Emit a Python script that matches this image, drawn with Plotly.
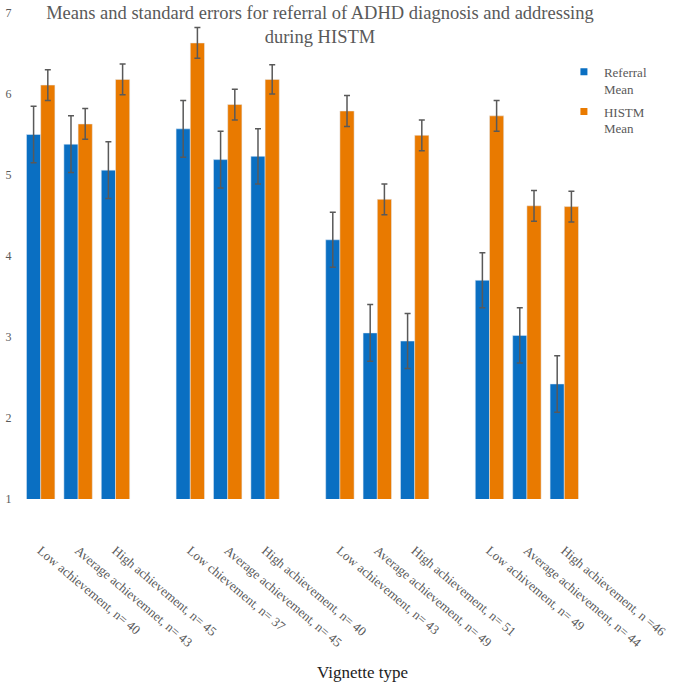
import plotly.graph_objects as go

labels = [
    "Low achievement, n= 40", "Average achievemnet, n= 43", "High achievement, n= 45",
    "Low chievement, n= 37", "Average achievement, n= 45", "High achievement, n= 40",
    "Low achievement, n= 43", "Average achievement, n= 49", "High achievement, n= 51",
    "Low achivement, n= 49", "Average achievement, n= 44", "High achievement, n =46",
]
referral_mean = [5.50, 5.38, 5.06, 5.57, 5.19, 5.23, 4.20, 3.05, 2.95, 3.70, 3.02, 2.42]
referral_se = [0.35, 0.35, 0.35, 0.35, 0.35, 0.34, 0.34, 0.35, 0.34, 0.34, 0.34, 0.35]
histm_mean = [6.11, 5.63, 6.18, 6.63, 5.87, 6.18, 5.79, 4.70, 5.49, 5.73, 4.62, 4.61]
histm_se = [0.19, 0.19, 0.19, 0.19, 0.19, 0.18, 0.19, 0.19, 0.19, 0.19, 0.19, 0.19]

# three vignettes per cluster, one empty slot between clusters
xpos = [i + i // 3 for i in range(len(labels))]

BLUE = "#0A6FC2"
ORANGE = "#E97A00"
GREY = "#595959"
FONT = "Liberation Serif"

fig = go.Figure()
fig.add_trace(go.Bar(
    x=xpos, y=referral_mean, name="Referral<br>Mean", marker_color=BLUE,
    error_y=dict(type="data", array=referral_se, color=GREY, thickness=1.5, width=3),
    showlegend=False,
))
fig.add_trace(go.Bar(
    x=xpos, y=histm_mean, name="HISTM<br>Mean", marker_color=ORANGE,
    error_y=dict(type="data", array=histm_se, color=GREY, thickness=1.5, width=3),
    showlegend=False,
))
# legend entries with small square markers
fig.add_trace(go.Scatter(x=[None], y=[None], mode="markers", name="Referral<br>Mean",
                         marker=dict(symbol="square", size=7, color=BLUE), legendgroup="a"))
fig.add_trace(go.Scatter(x=[None], y=[None], mode="markers", name="HISTM<br>Mean",
                         marker=dict(symbol="square", size=7, color=ORANGE), legendgroup="b"))

fig.update_layout(
    width=675, height=685,
    margin=dict(l=18.5, r=86.5, t=6, b=186),
    paper_bgcolor="white", plot_bgcolor="white",
    barmode="group", bargap=0.24, bargroupgap=0,
    font=dict(family=FONT, color=GREY, size=13),
    title=dict(
        text="Means and standard errors for referral of ADHD diagnosis and addressing<br>during HISTM",
        x=0.474, xref="container", xanchor="center",
        y=1 - 19 / 685, yref="container", yanchor="top",
        font=dict(family=FONT, size=18.5, color=GREY),
    ),
    legend=dict(
        x=0.966, xanchor="left", y=0.91, yanchor="top",
        font=dict(family=FONT, size=13, color=GREY),
        itemwidth=30, valign="top", tracegroupgap=3,
        bgcolor="rgba(0,0,0,0)",
    ),
    xaxis=dict(
        range=[-0.5, 14.5], tickmode="array", tickvals=xpos, ticktext=labels,
        tickangle=40, ticks="outside", ticklen=38, tickcolor="rgba(0,0,0,0)",
        showgrid=False, zeroline=False, showline=False,
        tickfont=dict(family=FONT, size=13, color=GREY),
    ),
    yaxis=dict(
        range=[1, 7], dtick=1, showgrid=False, zeroline=False, showline=False,
        ticks="outside", ticklen=7, tickcolor="rgba(0,0,0,0)",
        ticklabeloverflow="allow",
        tickfont=dict(family=FONT, size=12, color=GREY),
    ),
    annotations=[dict(
        text="Vignette type", xref="paper", yref="paper",
        x=(364 - 18.5) / 570, y=-(675 - 499) / 493, xanchor="center", yanchor="middle",
        showarrow=False, font=dict(family=FONT, size=17, color="#222222"),
    )],
)

fig.write_html("out.html", config={"displayModeBar": False},
               post_script="document.body.style.margin='0';")
